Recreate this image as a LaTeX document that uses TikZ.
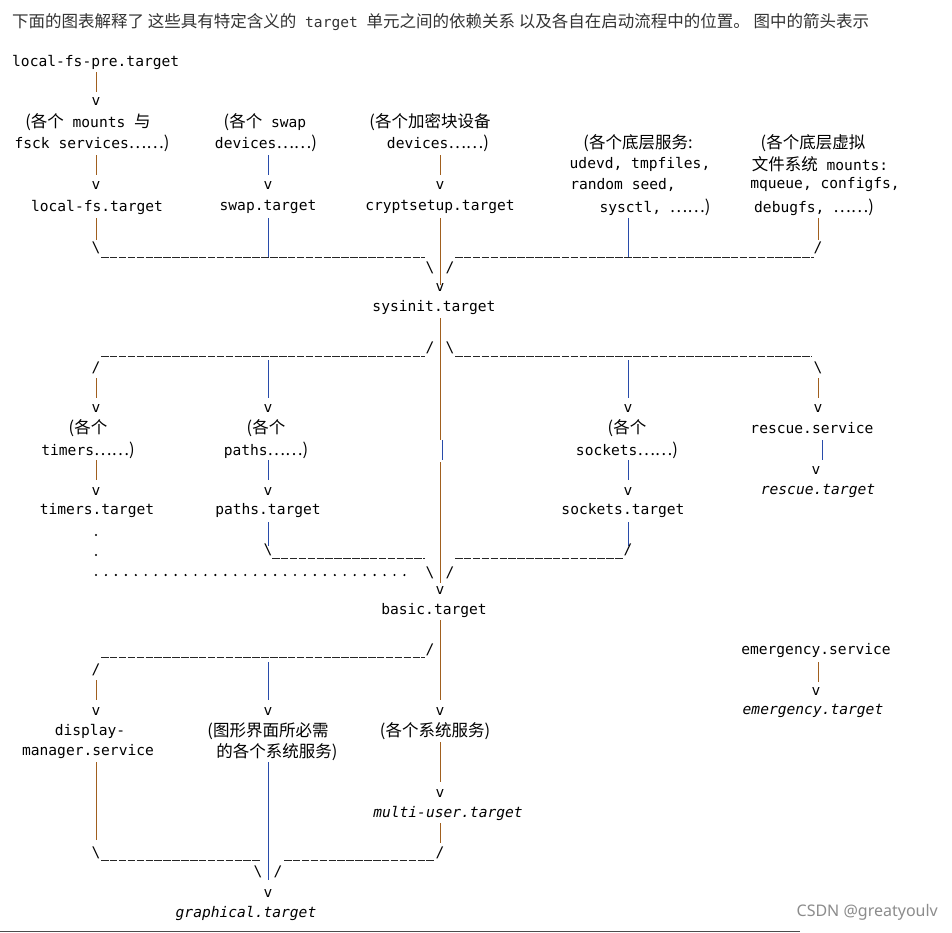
\documentclass[tikz,border=0pt]{standalone}
\usepackage{fontspec}
\setmainfont{DejaVu Sans Mono}
\newfontfamily\cjk{Noto Sans CJK SC}
\newfontfamily\wm{Noto Sans}
\begin{document}
\begin{tikzpicture}[x=1pt,y=-1pt,
  t/.style={inner sep=0pt,font=\fontsize{14.6}{16}\selectfont,text=black},
  it/.style={t,font=\fontsize{14.6}{16}\selectfont\itshape},
  br/.style={draw={rgb,255:red,160;green,95;blue,30},line width=1pt},
  bl/.style={draw={rgb,255:red,40;green,75;blue,170},line width=1pt},
  ul/.style={draw=black!85,line width=0.8pt,dash pattern=on 7.5pt off 1.4pt}]
\newcommand{\cc}[1]{{\cjk\fontsize{16.5}{17}\selectfont #1}}
\useasboundingbox (0,0) rectangle (952,932);
\fill[white] (0,0) rectangle (952,932);
\node[t,anchor=west,text=black!80] (hdr) at (12,22) {\cc{下面的图表解释了 这些具有特定含义的} target \cc{单元之间的依赖关系 以及各自在启动流程中的位置。 图中的箭头表示}};
% top row
\node[t,anchor=west] (lfp) at (12,62) {local-fs-pre.target};
\draw[br] (96,72) -- (96,92); \node[t] (v1) at (96,102) {v};
\node[t] (m1) at (88,122) {\cc{(各个} mounts \cc{与}};
\node[t] (m2) at (92,143) {fsck services\cc{……)}};
\node[t] (s1) at (265,122) {\cc{(各个} swap};
\node[t] (s2) at (266,143) {devices\cc{……)}};
\node[t] (c1) at (430,122) {\cc{(各个加密块设备}};
\node[t] (c2) at (438,143) {devices\cc{……)}};
\node[t] (d1) at (638,143) {\cc{(各个底层服务:}};
\node[t] (d2) at (640,164) {udevd, tmpfiles,};
\node[t] (d3) at (623,185) {random seed,};
\node[t] (d4) at (655,207) {sysctl, \cc{……)}};
\node[t] (e1) at (813,143) {\cc{(各个底层虚拟}};
\node[t] (e2) at (820,164) {\cc{文件系统} mounts:};
\node[t] (e3) at (825,185) {mqueue, configfs,};
\node[t] (e4) at (814,207) {debugfs, \cc{……)}};
\foreach \x/\s in {96/br,268/bl,440/br}{\draw[\s] (\x,155) -- (\x,175); \node[t] at (\x,186) {v};}
\node[t] (lfs) at (97,207) {local-fs.target};
\node[t] (swp) at (268,207) {swap.target};
\node[t] (cry) at (440,207) {cryptsetup.target};
\draw[br] (96,218) -- (96,240); \node[t] at (96,248) {\textbackslash};
\draw[bl] (268,218) -- (268,258);
\draw[br] (440,218) -- (440,285);
\draw[bl] (628,218) -- (628,258);
\draw[br] (818,218) -- (818,240); \node[t] at (818,248) {/};
\draw[ul] (101,257) -- (425,257); \draw[ul] (455,257) -- (814,257);
\node[t] at (430,268) {\textbackslash}; \node[t] at (450,268) {/};
\node[t] at (440,288) {v};
\node[t] (sys) at (434,308) {sysinit.target};
% second level
\draw[br] (440,318) -- (440,440); \draw[bl] (442,440) -- (442,460); \draw[br] (440,462) -- (440,583);
\draw[ul] (101,356) -- (425,356); \draw[ul] (455,356) -- (812,356);
\node[t] at (430,348) {/}; \node[t] at (450,348) {\textbackslash};
\node[t] at (96,368) {/}; \node[t] at (818,368) {\textbackslash};
\draw[bl] (268,360) -- (268,398); \draw[bl] (628,360) -- (628,398);
\draw[br] (96,378) -- (96,398); \draw[br] (818,378) -- (818,398);
\foreach \x in {96,268,628,818}{\node[t] at (\x,408) {v};}
\node[t] (ti1) at (88,428) {\cc{(各个}}; \node[t] (ti2) at (88,450) {timers\cc{……)}};
\node[t] (pa1) at (266,428) {\cc{(各个}}; \node[t] (pa2) at (266,450) {paths\cc{……)}};
\node[t] (so1) at (627,428) {\cc{(各个}}; \node[t] (so2) at (627,450) {sockets\cc{……)}};
\node[t] (rs) at (812,428) {rescue.service};
\draw[bl] (822,440) -- (822,460); \node[t] at (816,470) {v};
\node[it] (rt) at (818,491) {rescue.target};
\draw[br] (96,460) -- (96,480); \draw[bl] (268,460) -- (268,480); \draw[bl] (628,460) -- (628,480);
\foreach \x in {96,268,628}{\node[t] at (\x,491) {v};}
\node[t] (tt) at (97,511) {timers.target};
\node[t] (pt) at (268,511) {paths.target};
\node[t] (st) at (623,511) {sockets.target};
\fill (96,535) circle (1.2pt); \fill (96,555) circle (1.2pt);
\draw[bl] (268,522) -- (268,546); \node[t] at (268,550) {\textbackslash};
\draw[bl] (628,522) -- (628,546); \node[t] at (628,550) {/};
\draw[ul] (272,558) -- (425,558); \draw[ul] (455,558) -- (624,558);
\draw[black,line width=2.4pt,dash pattern=on 0pt off 9.95pt,line cap=round] (96,575) -- (414,575);
\node[t] at (430,573) {\textbackslash}; \node[t] at (450,573) {/};
\node[t] at (440,590) {v};
\node[t] (bas) at (434,611) {basic.target};
% third level
\draw[br] (440,620) -- (440,700);
\node[t] at (430,650) {/}; \draw[ul] (101,657) -- (425,657);
\node[t] at (96,670) {/};
\draw[br] (96,680) -- (96,700); \draw[bl] (268,662) -- (268,700);
\foreach \x in {96,268,440}{\node[t] at (\x,711) {v};}
\node[t] (dm1) at (90,731) {display-};
\node[t] (dm2) at (88,752) {manager.service};
\node[t] (g1) at (268,731) {\cc{(图形界面所必需}};
\node[t] (g2) at (277,752) {\cc{的各个系统服务)}};
\node[t] (ss) at (435,731) {\cc{(各个系统服务)}};
\draw[br] (96,762) -- (96,840);
\draw[bl] (268,762) -- (268,880);
\draw[br] (440,742) -- (440,782); \node[t] at (440,793) {v};
\node[it] (mu) at (448,813) {multi-user.target};
\draw[br] (440,823) -- (440,843);
\node[t] at (96,853) {\textbackslash}; \node[t] at (440,853) {/};
\draw[ul] (101,860) -- (260,860); \draw[ul] (284,860) -- (435,860);
\node[t] at (258,872) {\textbackslash}; \node[t] at (278,872) {/};
\node[t] at (268,893) {v};
\node[it] (gt) at (246,913) {graphical.target};
% emergency
\node[t] (es) at (816,651) {emergency.service};
\draw[br] (818,662) -- (818,682); \node[t] at (816,691) {v};
\node[it] (et) at (813,711) {emergency.target};
\node[anchor=east,inner sep=0pt,text=black!45,font=\wm\fontsize{16}{18}\selectfont] (wm) at (938,912) {CSDN @greatyoulv};
\draw[black!70,line width=1pt] (0,931) -- (800,931);
\end{tikzpicture}
\end{document}
